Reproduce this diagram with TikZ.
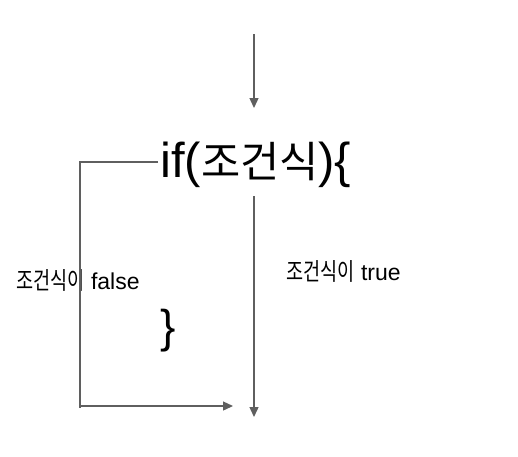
\documentclass[tikz,border=0pt]{standalone}
\usepackage{fontspec}
\setmainfont{Liberation Sans}
\newfontfamily\kr[Scale=0.87]{Noto Sans CJK KR}
\newfontfamily\krnarrow[Scale=1.05, FakeStretch=0.77]{Noto Sans CJK KR}
\usetikzlibrary{arrows.meta, positioning}
\definecolor{linegray}{RGB}{95,95,95}

\begin{document}
\begin{tikzpicture}[x=1pt, y=-1pt, >={Triangle[length=10pt, width=9pt]}, line cap=butt]
	
	% Styles
	\tikzset{
		flow/.style={draw=linegray, line width=1.3pt},
		codetext/.style={inner sep=0pt, font=\fontsize{49}{56}\selectfont},
		condtext/.style={inner sep=0pt, font=\fontsize{23}{26}\selectfont}
	}
	\useasboundingbox (0,0) rectangle (518,456);
	
	%======================
	% CODE
	%======================
	\node[codetext, anchor=base west] (ifline) at (160,177) {if({\kr 조건식})\{};
	\node[codetext, font=\fontsize{46}{52}\selectfont, anchor=base west] (closing) at (160,342) {\}};
	
	%======================
	% LABELS
	%======================
	\node[condtext, anchor=base west] (falselabel) at (16,289) {{\krnarrow 조건식이} false};
	\node[condtext, anchor=base west] (truelabel) at (286,280) {{\krnarrow 조건식이} true};
	
	%======================
	% FLOW LINES
	%======================
	\coordinate (entry) at (254,34);
	\coordinate (entryend) at (254,108);
	\coordinate (fork) at (158,162);
	\coordinate (corner) at (80,162);
	\coordinate (bottom) at (80,408);
	\coordinate (skipstart) at (80,406);
	\coordinate (skipend) at (233,406);
	\coordinate (bodystart) at (254,196);
	\coordinate (bodyend) at (254,417);
	
	\draw[flow,->] (entry) -- (entryend);
	\draw[flow] (fork) -- (corner) -- (bottom);
	\draw[flow,->] (skipstart) -- (skipend);
	\draw[flow,->] (bodystart) -- (bodyend);
\end{tikzpicture}
\end{document}
